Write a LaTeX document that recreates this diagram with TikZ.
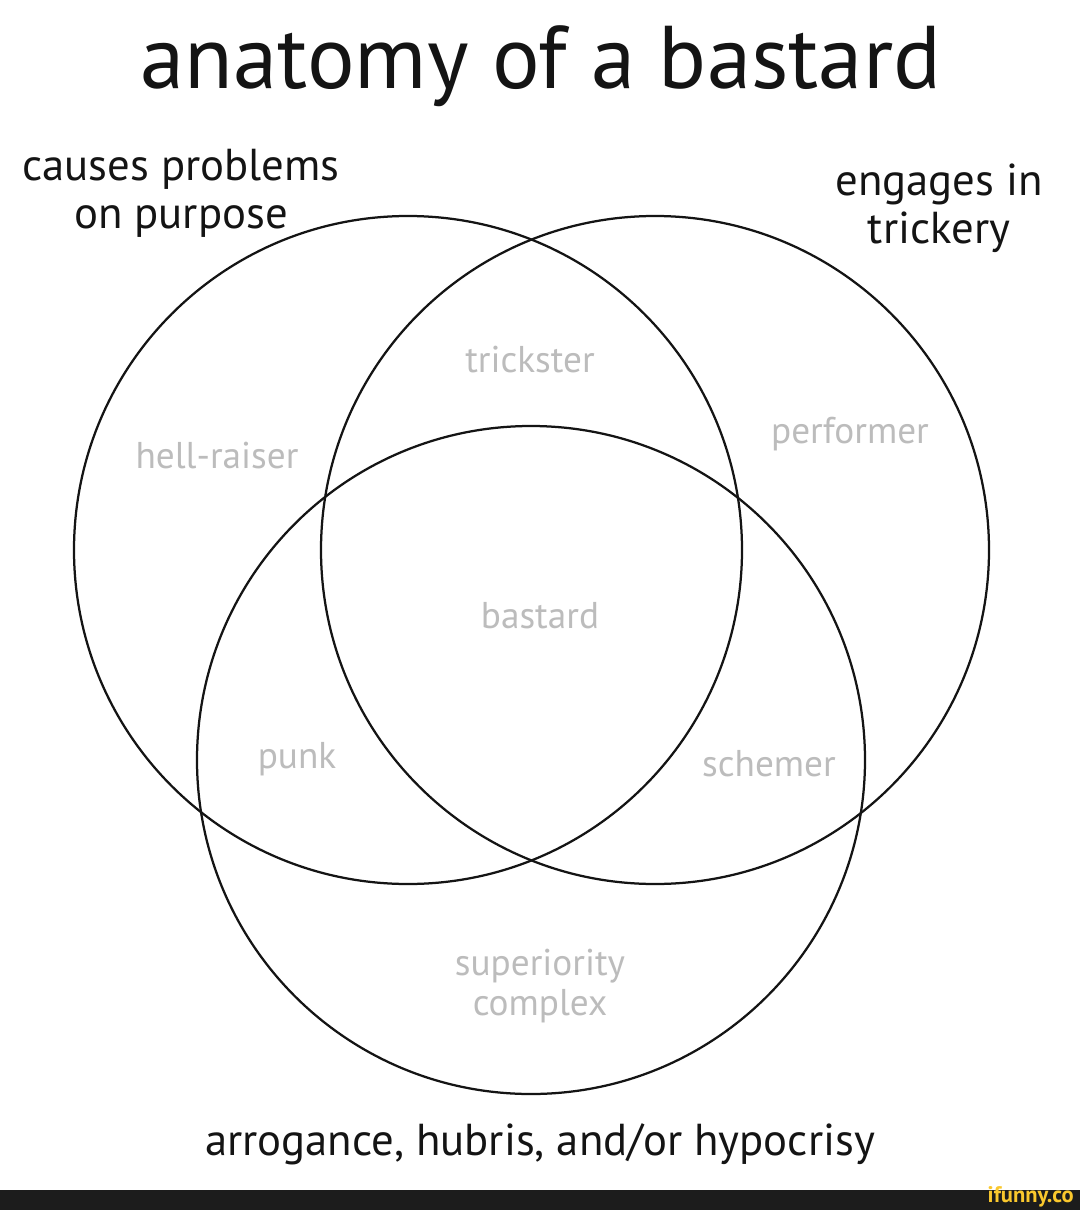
\documentclass[tikz,border=0pt]{standalone}
\usepackage{fontspec}
\setmainfont{PT Sans}
\usetikzlibrary{positioning}
\definecolor{ink}{RGB}{20,20,20}
\definecolor{fog}{RGB}{188,188,188}
\definecolor{barblack}{RGB}{28,28,28}
\definecolor{funnyyellow}{RGB}{250,200,45}
\tikzset{
  x=0.025cm,y=-0.025cm,
  ring/.style={draw=ink,line width=1.6pt},
  heading/.style={text=ink,font=\fontsize{63.3}{72}\selectfont,inner sep=0pt,anchor=base},
  trait/.style={text=ink,font=\fontsize{31.8}{34}\selectfont,inner sep=0pt,align=center,anchor=base},
  region/.style={text=fog,font=\fontsize{26.5}{28}\selectfont,inner sep=0pt,align=center,anchor=base},
}

\begin{document}
\begin{tikzpicture}
    \useasboundingbox[fill=white] (0,0) rectangle (1080,1210);
    % the three sets
    \coordinate (cl) at (408,550);
    \coordinate (cr) at (655,550);
    \coordinate (cb) at (531,760);
    \draw[ring] (cl) circle [radius=334];
    \draw[ring] (cr) circle [radius=334];
    \draw[ring] (cb) circle [radius=334];
    % title and set names
    \node[heading] (title) at (541,88) {anatomy of a bastard};
    \node[trait] (purpose) at (181,228) {causes problems\\on purpose};
    \node[trait] (trick) at (939,243) {engages in\\trickery};
    \node[trait] (arrog) at (540,1155) {arrogance, hubris, and/or hypocrisy};
    % regions
    \node[region] (trickster) at (530,372) {trickster};
    \node[region] (hell) at (217,468) {hell-raiser};
    \node[region] (perf) at (850,443) {performer};
    \node[region] (bast) at (540,628) {bastard};
    \node[region] (punk) at (297,768) {punk};
    \node[region] (schem) at (769,776) {schemer};
    \node[region] (super) at (540,1015) {superiority\\complex};
    % footer
    \fill[barblack] (0,1190) rectangle (1080,1210);
    \node[text=funnyyellow,font=\bfseries\fontsize{16}{16}\selectfont,inner sep=0pt,anchor=base east] (logo) at (1074,1202) {ifunny.co};
\end{tikzpicture}
\end{document}
